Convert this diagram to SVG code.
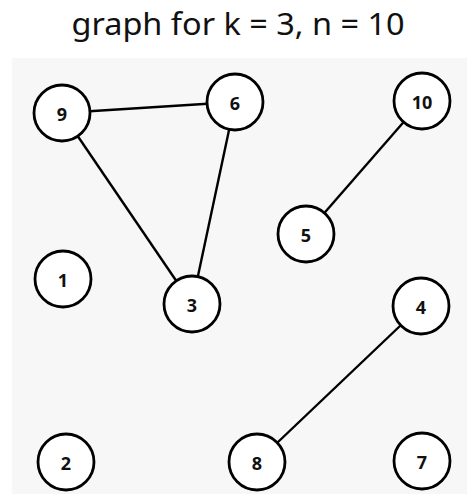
<svg xmlns="http://www.w3.org/2000/svg" width="474" height="503" viewBox="0 0 474 503">
<style>
.title{font-family:"Noto Sans","Open Sans",sans-serif;font-size:31px;fill:#111;text-anchor:middle}
.node circle{fill:#fff;stroke:#000;stroke-width:2.8}
.node text{font-family:"Open Sans","Noto Sans",sans-serif;font-weight:bold;font-size:18px;fill:#111;text-anchor:middle;dominant-baseline:central}
.edges line{stroke:#000;stroke-width:2.4}
</style>
<rect width="474" height="503" fill="#fff"/>
<text class="title" x="238" y="35" textLength="333" lengthAdjust="spacingAndGlyphs">graph for k = 3, n = 10</text>
<rect x="12" y="58" width="455" height="436" fill="#f7f7f7"/>
<g class="edges">
<line x1="62" y1="113" x2="235" y2="102"/>
<line x1="62" y1="113" x2="192" y2="304"/>
<line x1="235" y1="102" x2="192" y2="304"/>
<line x1="422" y1="101" x2="306" y2="234"/>
<line x1="421" y1="306" x2="257" y2="462"/>
</g>
<g id="n9" class="node"><circle cx="62" cy="113" r="28"/><text x="62" y="114">9</text></g>
<g id="n6" class="node"><circle cx="235" cy="102" r="28"/><text x="235" y="103">6</text></g>
<g id="n10" class="node"><circle cx="422" cy="101" r="28"/><text x="422" y="102">10</text></g>
<g id="n5" class="node"><circle cx="306" cy="234" r="28"/><text x="306" y="235">5</text></g>
<g id="n1" class="node"><circle cx="63" cy="279" r="28"/><text x="63" y="280">1</text></g>
<g id="n3" class="node"><circle cx="192" cy="304" r="28"/><text x="192" y="305">3</text></g>
<g id="n4" class="node"><circle cx="421" cy="306" r="28"/><text x="421" y="307">4</text></g>
<g id="n2" class="node"><circle cx="66" cy="462" r="28"/><text x="66" y="463">2</text></g>
<g id="n8" class="node"><circle cx="257" cy="462" r="28"/><text x="257" y="463">8</text></g>
<g id="n7" class="node"><circle cx="422" cy="461" r="28"/><text x="422" y="462">7</text></g>
</svg>
